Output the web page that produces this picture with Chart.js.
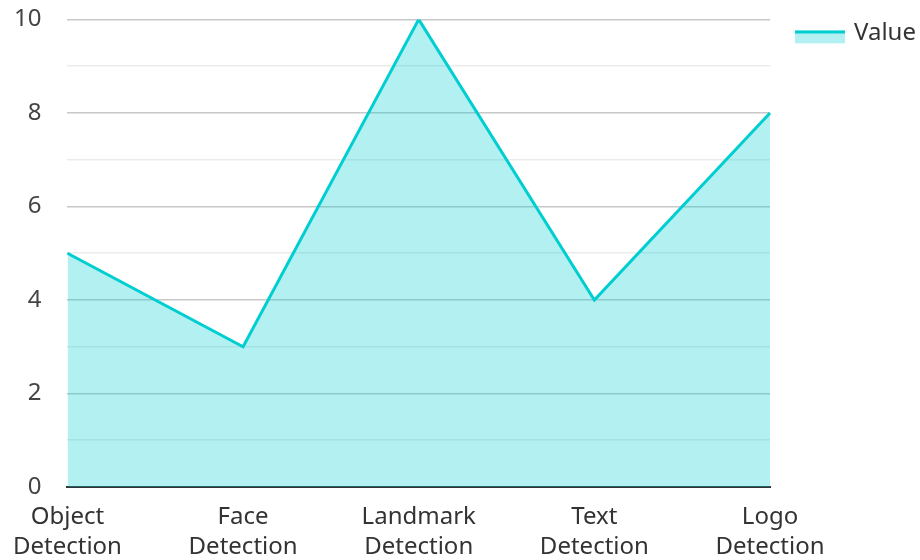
<!DOCTYPE html>
<html>
<head>
<meta charset="utf-8">
<script src="https://cdn.jsdelivr.net/npm/chart.js@4"></script>
<style>
  html, body { margin: 0; padding: 0; background: #fff; overflow: hidden; }
  body { width: 920px; height: 560px; position: relative; }
  #wrap { width: 932px; height: 598px; position: absolute; left: -12px; top: -21px; }
</style>
</head>
<body>
<div id="wrap"><canvas id="chart"></canvas></div>
<script>
const categories = [
  ['Object', 'Detection'],
  ['Face', 'Detection'],
  ['Landmark', 'Detection'],
  ['Text', 'Detection'],
  ['Logo', 'Detection']
];
const values = [5, 3, 10, 4, 8];
const seriesName = 'Value';
const yMin = 0;
const yMax = 10;

const LINE = '#00ced1';
const FILL = 'rgba(0,206,209,0.3)';
const FONT = '"Noto Sans", "Open Sans", sans-serif';

Chart.defaults.font.family = FONT;
Chart.defaults.color = '#444';

// legend drawn by hand: line on top of a filled swatch, as in the original
const sideLegend = {
  id: 'sideLegend',
  afterDraw(c) {
    const ctx = c.ctx;
    const x = c.chartArea.right + 25;
    const y = c.chartArea.top + 11;
    ctx.save();
    ctx.fillStyle = FILL;
    ctx.fillRect(x, y, 50, 13);
    ctx.strokeStyle = LINE;
    ctx.lineWidth = 3;
    ctx.beginPath();
    ctx.moveTo(x, y + 1.5);
    ctx.lineTo(x + 50, y + 1.5);
    ctx.stroke();
    ctx.fillStyle = '#333';
    ctx.font = '24px ' + FONT;
    ctx.textBaseline = 'middle';
    ctx.fillText(seriesName, x + 59, y + 3);
    ctx.restore();
  }
};

const chart = new Chart(document.getElementById('chart'), {
  type: 'line',
  data: {
    labels: categories,
    datasets: [{
      label: seriesName,
      data: values,
      borderColor: LINE,
      backgroundColor: FILL,
      borderWidth: 3,
      fill: 'origin',
      tension: 0,
      pointRadius: 0,
      pointHoverRadius: 0
    }]
  },
  options: {
    responsive: true,
    maintainAspectRatio: false,
    animation: false,
    layout: { padding: { top: 0, right: 150, left: 0, bottom: 0 } },
    plugins: {
      tooltip: { enabled: false },
      legend: { display: false }
    },
    scales: {
      x: {
        offset: false,
        grid: { display: false, drawTicks: false },
        border: { display: true, color: '#333', width: 2 },
        ticks: { font: { size: 24, lineHeight: 1.25 }, color: '#333', padding: 15, maxRotation: 0, autoSkip: false }
      },
      y: {
        min: yMin,
        max: yMax,
        border: { display: false },
        grid: {
          drawTicks: false,
          color: ctx => (ctx.tick && ctx.tick.value % 2 === 0) ? '#c8c8c8' : '#ebebeb',
          lineWidth: 1.5
        },
        ticks: {
          stepSize: 1,
          padding: 26,
          font: { size: 24 },
          color: '#444',
          callback: v => (v % 2 === 0 ? v : '')
        }
      }
    }
  },
  plugins: [sideLegend]
});
</script>
</body>
</html>
